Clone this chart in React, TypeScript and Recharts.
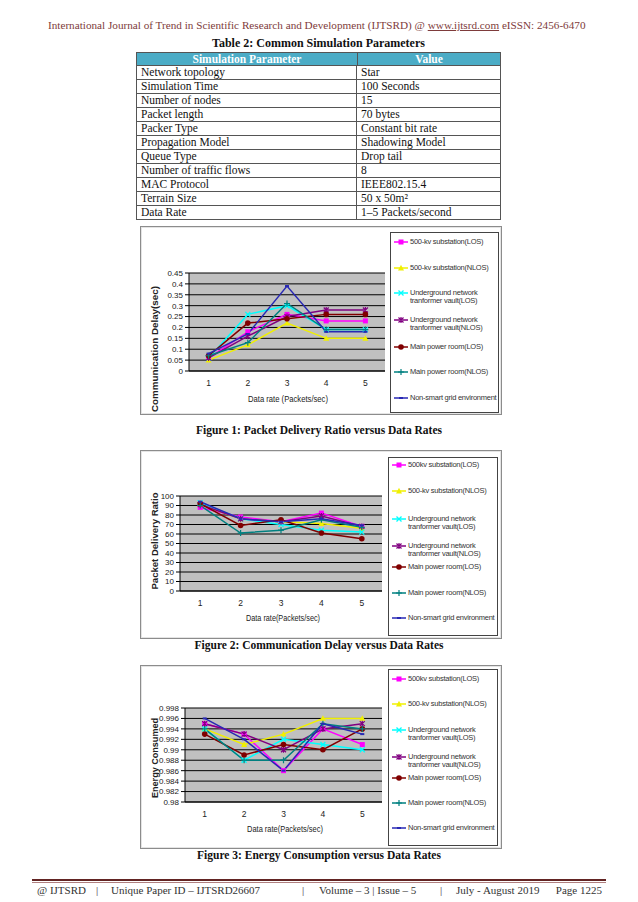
import React from "react";
import { CartesianGrid, Line, LineChart, XAxis, YAxis } from "recharts";

const rates = ["1", "2", "3", "4", "5"];

const keys = ["los500", "nlos500", "ugLos", "ugNlos", "mainLos", "mainNlos", "nonSmart"];
const colors = ["#ff00ff", "#f0f000", "#00ffff", "#800080", "#800000", "#008080", "#2828b4"];
const markers = ["square", "triangle", "cross", "star", "circle", "plus", "dash"];

const legendA = [
  "500-kv substation(LOS)",
  "500-kv substation(NLOS)",
  "Underground network|tranformer vault(LOS)",
  "Underground network|tranformer vault(NLOS)",
  "Main power room(LOS)",
  "Main power room(NLOS)",
  "Non-smart grid environment",
];
const legendB = ["500kv substation(LOS)", ...legendA.slice(1)];

// figure 1: communication delay (sec)
const delayLos500 = [0.06, 0.18, 0.26, 0.23, 0.23];
const delayNlos500 = [0.05, 0.12, 0.22, 0.15, 0.15];
const delayUgLos = [0.06, 0.26, 0.3, 0.19, 0.19];
const delayUgNlos = [0.06, 0.16, 0.25, 0.28, 0.28];
const delayMainLos = [0.07, 0.22, 0.24, 0.26, 0.26];
const delayMainNlos = [0.07, 0.13, 0.31, 0.19, 0.19];
const delayNonSmart = [0.08, 0.17, 0.39, 0.18, 0.18];
const delayTicks = [0, 0.05, 0.1, 0.15, 0.2, 0.25, 0.3, 0.35, 0.4, 0.45];

// figure 2: packet delivery ratio
const pdrLos500 = [88, 78, 73, 82, 68];
const pdrNlos500 = [91, 76, 73, 71, 66];
const pdrUgLos = [93, 76, 70, 64, 62];
const pdrUgNlos = [91, 76, 73, 79, 68];
const pdrMainLos = [92, 69, 75, 61, 55];
const pdrMainNlos = [90, 61, 64, 75, 67];
const pdrNonSmart = [94, 76, 73, 76, 69];
const pdrTicks = [0, 10, 20, 30, 40, 50, 60, 70, 80, 90, 100];

// figure 3: energy consumed
const energyLos500 = [0.995, 0.993, 0.986, 0.994, 0.991];
const energyNlos500 = [0.994, 0.991, 0.993, 0.996, 0.996];
const energyUgLos = [0.994, 0.988, 0.992, 0.991, 0.99];
const energyUgNlos = [0.995, 0.993, 0.99, 0.994, 0.995];
const energyMainLos = [0.993, 0.989, 0.991, 0.99, 0.994];
const energyMainNlos = [0.994, 0.988, 0.988, 0.995, 0.994];
const energyNonSmart = [0.996, 0.992, 0.986, 0.995, 0.993];
const energyTicks = [0.98, 0.982, 0.984, 0.986, 0.988, 0.99, 0.992, 0.994, 0.996, 0.998];

const tableRows = [
  ["Network topology", "Star"],
  ["Simulation Time", "100 Seconds"],
  ["Number of nodes", "15"],
  ["Packet length", "70 bytes"],
  ["Packer Type", "Constant bit rate"],
  ["Propagation Model", "Shadowing Model"],
  ["Queue Type", "Drop tail"],
  ["Number of traffic flows", "8"],
  ["MAC Protocol", "IEEE802.15.4"],
  ["Terrain Size", "50 x 50m²"],
  ["Data Rate", "1–5 Packets/second"],
];

const toRows = (series: number[][]) =>
  rates.map((x, i) => {
    const row: Record<string, any> = { x };
    keys.forEach((k, s) => (row[k] = series[s][i]));
    return row;
  });

const delayData = toRows([delayLos500, delayNlos500, delayUgLos, delayUgNlos, delayMainLos, delayMainNlos, delayNonSmart]);
const pdrData = toRows([pdrLos500, pdrNlos500, pdrUgLos, pdrUgNlos, pdrMainLos, pdrMainNlos, pdrNonSmart]);
const energyData = toRows([energyLos500, energyNlos500, energyUgLos, energyUgNlos, energyMainLos, energyMainNlos, energyNonSmart]);

const serif = '"Liberation Serif", "DejaVu Serif", serif';
const sans = '"Liberation Sans", Arial, sans-serif';

function Marker({ kind, cx, cy, color }: { kind: string; cx: number; cy: number; color: string }) {
  switch (kind) {
    case "square":
      return <rect x={cx - 2.5} y={cy - 2.5} width={5} height={5} fill={color} />;
    case "triangle":
      return <polygon points={`${cx},${cy - 3.2} ${cx + 3},${cy + 2.4} ${cx - 3},${cy + 2.4}`} fill={color} />;
    case "cross":
      return <path d={`M${cx - 2.5} ${cy - 2.5}L${cx + 2.5} ${cy + 2.5}M${cx - 2.5} ${cy + 2.5}L${cx + 2.5} ${cy - 2.5}`} stroke={color} strokeWidth={1.3} />;
    case "star":
      return <path d={`M${cx - 2.5} ${cy - 2.5}L${cx + 2.5} ${cy + 2.5}M${cx - 2.5} ${cy + 2.5}L${cx + 2.5} ${cy - 2.5}M${cx} ${cy - 3}L${cx} ${cy + 3}`} stroke={color} strokeWidth={1.2} />;
    case "circle":
      return <circle cx={cx} cy={cy} r={2.8} fill={color} />;
    case "plus":
      return <path d={`M${cx - 3} ${cy}L${cx + 3} ${cy}M${cx} ${cy - 3}L${cx} ${cy + 3}`} stroke={color} strokeWidth={1.2} />;
    default:
      return <rect x={cx - 2} y={cy - 1} width={4} height={2} fill={color} />;
  }
}

interface FigProps {
  top: number;
  height: number;
  plot: [number, number, number, number]; // left, right, top, bottom (page px)
  data: any[];
  ticks: number[];
  legend: string[];
  legendBox: [number, number, number, number];
  legendCenters: number[];
  yTitle: string;
  yTitleAt: [number, number];
  yTitleLen: number;
  xTitle: string;
  xTitleAt: [number, number];
  xTitleLen: number;
}

function Figure(p: FigProps) {
  const left = 140;
  const width = 362;
  const [pl, pr, pt, pb] = p.plot;
  const yw = pl - left;
  const xh = p.top + p.height - pb;
  const pad = (pr - pl) / 10;
  const [lx, ly, lw, lh] = p.legendBox;
  return (
    <div style={{ position: "absolute", left, top: p.top, width, height: p.height, background: "#fff" }}>
      <div style={{ position: "absolute", left: 0, top: 0 }}>
        <LineChart width={width} height={p.height} data={p.data} margin={{ top: pt - p.top, right: left + width - pr, bottom: 0, left: 0 }}>
          <CartesianGrid vertical={false} stroke="#000" strokeWidth={1} fill="#c0c0c0" fillOpacity={1} />
          <XAxis
            dataKey="x"
            height={xh}
            padding={{ left: pad, right: pad }}
            tickLine={false}
            tickSize={0}
            tickMargin={9}
            axisLine={{ stroke: "#000" }}
            tick={{ fontSize: 8.5, fill: "#222", fontFamily: sans }}
            label={() => (
              <text x={p.xTitleAt[0] - left} y={p.xTitleAt[1] - p.top} textAnchor="middle" dominantBaseline="central" fontSize={9} fill="#222" fontFamily={sans} textLength={p.xTitleLen} lengthAdjust="spacingAndGlyphs">
                {p.xTitle}
              </text>
            )}
          />
          <YAxis
            width={yw}
            domain={[p.ticks[0], p.ticks[p.ticks.length - 1]]}
            ticks={p.ticks}
            interval={0}
            tickSize={4}
            tickMargin={2}
            tickLine={{ stroke: "#000" }}
            axisLine={{ stroke: "#000" }}
            tick={{ fontSize: 8, fill: "#222", fontFamily: sans }}
            tickFormatter={(v: number) => String(+v.toFixed(3))}
            label={() => {
              const x = p.yTitleAt[0] - left;
              const y = p.yTitleAt[1] - p.top;
              return (
                <text x={x} y={y} transform={`rotate(-90 ${x} ${y})`} textAnchor="middle" dominantBaseline="central" fontSize={9} fontWeight="bold" fill="#222" fontFamily={sans} textLength={p.yTitleLen} lengthAdjust="spacingAndGlyphs">
                  {p.yTitle}
                </text>
              );
            }}
          />
          {keys.map((k, s) => (
            <Line
              key={k}
              dataKey={k}
              type="linear"
              stroke={colors[s]}
              strokeWidth={1.5}
              isAnimationActive={false}
              dot={(d: any) => <Marker key={`${k}-${d.index}`} kind={markers[s]} cx={d.cx} cy={d.cy} color={colors[s]} />}
              activeDot={false}
            />
          ))}
        </LineChart>
      </div>
      <div style={{ position: "absolute", inset: 0, border: "1px solid #8c8c8c", boxShadow: "inset 0 0 0 1px #e4e4e4", pointerEvents: "none" }} />
      <div style={{ position: "absolute", left: lx - left, top: ly - p.top, width: lw, height: lh, border: "1px solid #444", boxSizing: "border-box", background: "#fff" }}>
        {p.legend.map((name, i) => (
          <div key={name} style={{ position: "absolute", left: 3, top: p.legendCenters[i] - ly - 1, transform: "translateY(-50%)", display: "flex", alignItems: "center", whiteSpace: "nowrap" }}>
            <svg width={14} height={8} style={{ flex: "none", alignSelf: "flex-start" }}>
              <line x1={0} y1={4} x2={14} y2={4} stroke={colors[i]} strokeWidth={1.5} />
              <Marker kind={markers[i]} cx={7} cy={4} color={colors[i]} />
            </svg>
            <span style={{ marginLeft: 2, fontSize: 7.5, lineHeight: "8px", color: "#333", fontFamily: sans, letterSpacing: -0.25 }}>
              {name.split("|").map((t, j) => (
                <div key={j}>{t}</div>
              ))}
            </span>
          </div>
        ))}
      </div>
    </div>
  );
}

const caption: React.CSSProperties = {
  position: "absolute",
  left: 0,
  width: 638,
  textAlign: "center",
  fontFamily: serif,
  fontWeight: "bold",
  fontSize: 11.5,
  lineHeight: "14px",
  color: "#111",
};

export default function App() {
  return (
    <div style={{ position: "absolute", left: 0, top: 0, width: 638, height: 902, background: "#fff", fontFamily: serif, overflow: "hidden" }}>
      <div style={{ position: "absolute", left: 48, top: 18, fontSize: 11.2, lineHeight: "14px", color: "#7e3b3b", whiteSpace: "nowrap" }}>
        International Journal of Trend in Scientific Research and Development (IJTSRD) @ <span style={{ textDecoration: "underline" }}>www.ijtsrd.com</span> eISSN: 2456-6470
      </div>

      <div style={{ ...caption, left: 136, width: 365, top: 36, fontSize: 12 }}>Table 2: Common Simulation Parameters</div>
      <div style={{ position: "absolute", left: 136, top: 52, width: 365, border: "1px solid #555", boxSizing: "border-box", fontSize: 11.5, color: "#111" }}>
        <div style={{ display: "flex", height: 12, background: "#4bacc6", color: "#fff", fontWeight: "bold", lineHeight: "12px", borderBottom: "1px solid #555" }}>
          <div style={{ width: 220, textAlign: "center", borderRight: "1px solid #555" }}>Simulation Parameter</div>
          <div style={{ flex: 1, textAlign: "center" }}>Value</div>
        </div>
        {tableRows.map(([a, b], i) => (
          <div key={a} style={{ display: "flex", height: 13, lineHeight: "13px", borderBottom: i < tableRows.length - 1 ? "1px solid #555" : "none" }}>
            <div style={{ width: 220, paddingLeft: 4, borderRight: "1px solid #555", boxSizing: "border-box" }}>{a}</div>
            <div style={{ flex: 1, paddingLeft: 4 }}>{b}</div>
          </div>
        ))}
      </div>

      <Figure
        top={226}
        height={189}
        plot={[189, 385, 273, 371]}
        data={delayData}
        ticks={delayTicks}
        legend={legendA}
        legendBox={[390, 232, 109, 181]}
        legendCenters={[242, 268, 297, 324, 347, 372, 398]}
        yTitle="Communication Delay(sec)"
        yTitleAt={[155, 349]}
        yTitleLen={126}
        xTitle="Data rate (Packets/sec)"
        xTitleAt={[288, 399]}
        xTitleLen={80}
      />
      <div style={{ ...caption, top: 423 }}>Figure 1: Packet Delivery Ratio versus Data Rates</div>

      <Figure
        top={450}
        height={189}
        plot={[180, 382, 496, 591]}
        data={pdrData}
        ticks={pdrTicks}
        legend={legendB}
        legendBox={[388, 457, 110, 179]}
        legendCenters={[465, 491, 523, 550, 567, 593, 618]}
        yTitle="Packet Delivery Ratio"
        yTitleAt={[155, 541]}
        yTitleLen={97}
        xTitle="Data rate(Packets/sec)"
        xTitleAt={[283, 618]}
        xTitleLen={74}
      />
      <div style={{ ...caption, top: 638 }}>Figure 2: Communication Delay versus Data Rates</div>

      <Figure
        top={665}
        height={184}
        plot={[185, 382, 708, 802]}
        data={energyData}
        ticks={energyTicks}
        legend={legendB}
        legendBox={[388, 669, 110, 177]}
        legendCenters={[679, 704, 734, 761, 778, 803, 828]}
        yTitle="Energy Consumed"
        yTitleAt={[155, 758]}
        yTitleLen={80}
        xTitle="Data rate(Packets/sec)"
        xTitleAt={[285, 829]}
        xTitleLen={76}
      />
      <div style={{ ...caption, top: 848 }}>Figure 3: Energy Consumption versus Data Rates</div>

      <div style={{ position: "absolute", left: 32, top: 879, width: 574, height: 2, background: "#622423" }} />
      <div style={{ position: "absolute", left: 32, top: 882, width: 574, height: 1, background: "#b08080" }} />
      <div style={{ position: "absolute", left: 0, top: 883, width: 638, height: 14, fontSize: 11, lineHeight: "14px", color: "#333", whiteSpace: "nowrap" }}>
        <span style={{ position: "absolute", left: 37 }}>@ IJTSRD</span>
        <span style={{ position: "absolute", left: 96 }}>|</span>
        <span style={{ position: "absolute", left: 111 }}>Unique Paper ID – IJTSRD26607</span>
        <span style={{ position: "absolute", left: 302 }}>|</span>
        <span style={{ position: "absolute", left: 319 }}>Volume – 3 | Issue – 5</span>
        <span style={{ position: "absolute", left: 440 }}>|</span>
        <span style={{ position: "absolute", left: 456 }}>July - August 2019</span>
        <span style={{ position: "absolute", right: 36 }}>Page 1225</span>
      </div>
    </div>
  );
}
